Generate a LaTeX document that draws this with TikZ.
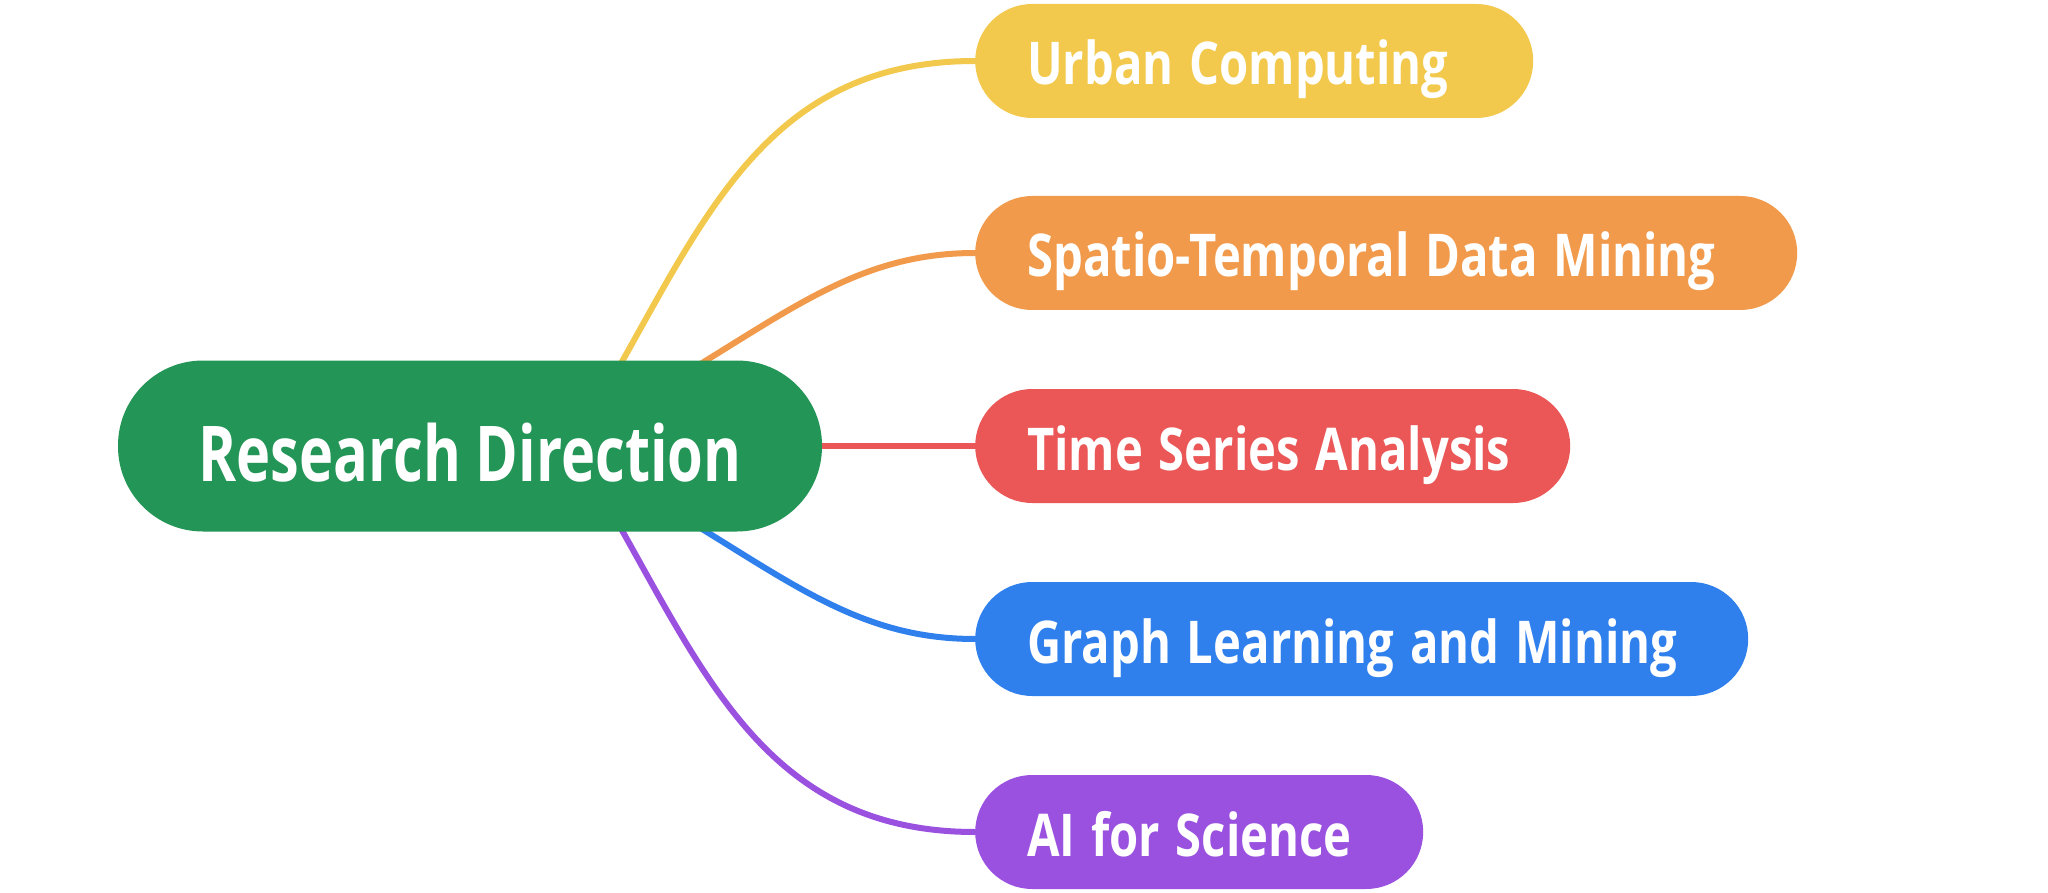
\documentclass[tikz,border=0pt]{standalone}
\usepackage{fontspec}
\usepackage{graphicx}
\setmainfont{Open Sans}
\usetikzlibrary{calc}
\pgfdeclarelayer{bg}
\pgfsetlayers{bg,main}
\definecolor{cgreen}{HTML}{239556}
\definecolor{cyellow}{HTML}{F2C94C}
\definecolor{corange}{HTML}{F19A4B}
\definecolor{cred}{HTML}{EB5757}
\definecolor{cblue}{HTML}{2F80ED}
\definecolor{cpurple}{HTML}{9B51E0}
\newcommand{\childtxt}[1]{\scalebox{0.8}[1]{#1}}
\newcommand{\roottxt}[1]{\scalebox{0.75}[1]{#1}}
\tikzset{
  pill/.style={rectangle, rounded corners=57pt, minimum height=114pt, inner xsep=52pt, inner ysep=0pt,
    text height=48pt, text depth=0pt,
    anchor=west, align=left, text=white, font=\fontsize{59}{66}\selectfont\bfseries},
  rootbox/.style={rectangle, rounded corners=85pt, minimum height=171pt, minimum width=704pt,
    text height=71pt, text depth=0pt, inner ysep=0pt,
    fill=cgreen, text=white, font=\fontsize{77}{86}\selectfont\bfseries},
  link/.style={line width=6pt, line cap=round}
}
\begin{document}
\begin{tikzpicture}[x=1pt,y=-1pt]
\useasboundingbox (0,0) rectangle (2048,893);
\node[rootbox] (root) at (470,446) {\roottxt{Research Direction}};
\node[pill, fill=cyellow, text width=454pt] (c1) at (975,61) {\childtxt{Urban Computing}};
\node[pill, fill=corange, text width=718pt] (c2) at (975,253) {\childtxt{Spatio-Temporal Data Mining}};
\node[pill, fill=cred, text width=491pt] (c3) at (975,446) {\childtxt{Time Series Analysis}};
\node[pill, fill=cblue, text width=669pt] (c4) at (975,639) {\childtxt{Graph Learning and Mining}};
\node[pill, fill=cpurple, text width=344pt] (c5) at (975,832) {\childtxt{AI for Science}};
\coordinate (s1) at (600,400);
\coordinate (s2) at (640,400);
\coordinate (s4) at (640,492);
\coordinate (s5) at (600,492);
\begin{pgfonlayer}{bg}
\draw[link, cyellow] (s1) .. controls (700,230) and (760,61) .. (c1.west);
\draw[link, corange] (s2) .. controls (780,320) and (850,253) .. (c2.west);
\draw[link, cred] (root.east) -- (c3.west);
\draw[link, cblue] (s4) .. controls (780,572) and (850,639) .. (c4.west);
\draw[link, cpurple] (s5) .. controls (700,662) and (760,832) .. (c5.west);
\end{pgfonlayer}
\end{tikzpicture}
\end{document}
